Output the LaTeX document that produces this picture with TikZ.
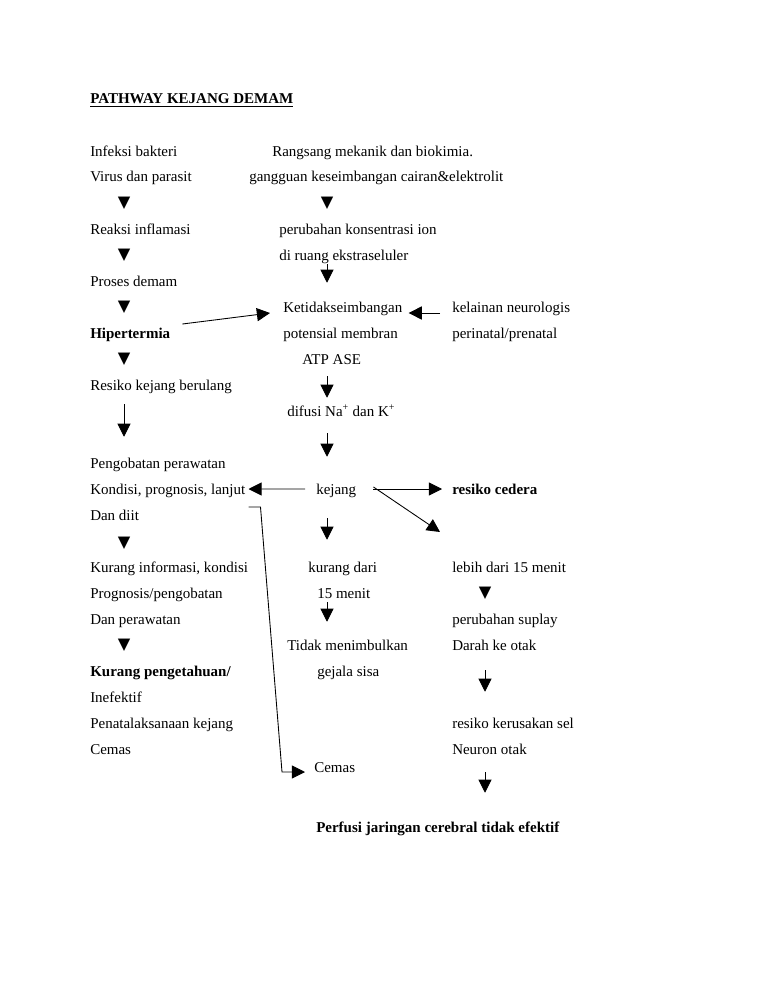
\documentclass[tikz,border=0pt]{standalone}
\usepackage{fontspec}
\setmainfont{Liberation Serif}
\newfontfamily\trifont{DejaVu Sans}
\usetikzlibrary{arrows.meta, positioning}

\begin{document}
\begin{tikzpicture}[x=0.8pt, y=-0.8pt, node distance={20.8pt},
		txt/.style = {anchor=base west, inner sep=0pt, text height=9pt, text depth=3pt, font=\fontsize{12pt}{14pt}\selectfont},
		bold/.style = {txt, font=\fontsize{12pt}{14pt}\selectfont\bfseries},
		tri/.style = {inner sep=0pt, font=\fontsize{13pt}{13pt}\selectfont\trifont},
		arr/.style = {-{Triangle[length=10.5pt, width=10.5pt]}, line width=0.7pt}]
	\useasboundingbox (0,0) rectangle (768,994);
	
	\node[bold] (title) at (90,104) {\underline{PATHWAY KEJANG DEMAM}};
	
	% left column
	\node[txt] (infeksi) at (90,156) {Infeksi bakteri};
	\node[below = of infeksi.base west, txt] (virus) {Virus dan parasit};
	\node[tri] (tvirus) at (124,203) {▼};
	\node[txt] (reaksi) at (90,234) {Reaksi inflamasi};
	\node[tri] (treaksi) at (124,255) {▼};
	\node[txt] (proses) at (90,286) {Proses demam};
	\node[tri] (tproses) at (124,307) {▼};
	\node[bold] (hiper) at (90,338) {Hipertermia};
	\node[tri] (thiper) at (124,359) {▼};
	\node[txt] (resiko) at (90,390) {Resiko kejang berulang};
	\node[txt] (pengobatan) at (90,468) {Pengobatan perawatan};
	\node[below = of pengobatan.base west, txt] (kondisi) {Kondisi, prognosis, lanjut};
	\node[below = of kondisi.base west, txt] (diit) {Dan diit};
	\node[tri] (tdiit) at (124,543) {▼};
	\node[txt] (info) at (90,572) {Kurang informasi, kondisi};
	\node[below = of info.base west, txt] (prognosis) {Prognosis/pengobatan};
	\node[below = of prognosis.base west, txt] (perawatan) {Dan perawatan};
	\node[tri] (tperawatan) at (124,645) {▼};
	\node[bold] (tahu) at (90,676) {Kurang pengetahuan/};
	\node[below = of tahu.base west, txt] (inefektif) {Inefektif};
	\node[below = of inefektif.base west, txt] (tatalaksana) {Penatalaksanaan kejang};
	\node[below = of tatalaksana.base west, txt] (cemas) {Cemas};
	
	% middle column
	\node[txt] (rangsang) at (272,156) {Rangsang mekanik dan biokimia.};
	\node[txt] (gangguan) at (249,182) {gangguan keseimbangan cairan\&elektrolit};
	\node[tri] (tgangguan) at (327,203) {▼};
	\node[txt] (konsentrasi) at (279,234) {perubahan konsentrasi ion};
	\node[below = of konsentrasi.base west, txt] (ruang) {di ruang ekstraseluler};
	\node[txt] (ketidak) at (283,312) {Ketidakseimbangan};
	\node[below = of ketidak.base west, txt] (membran) {potensial membran};
	\node[txt] (atp) at (302,364) {ATP ASE};
	\node[txt] (difusi) at (287,416) {difusi Na\textsuperscript{+} dan K\textsuperscript{+}};
	\node[txt] (kejang) at (316,494) {kejang};
	\node[txt] (kurangdari) at (308,572) {kurang dari};
	\node[txt] (menit) at (317,598) {15 menit};
	\node[txt] (tidak) at (287,650) {Tidak menimbulkan};
	\node[txt] (gejala) at (317,676) {gejala sisa};
	\node[txt] (cemasb) at (314,772) {Cemas};
	\node[bold] (perfusi) at (316,832) {Perfusi jaringan cerebral tidak efektif};
	
	% right column
	\node[txt] (kelainan) at (452,312) {kelainan neurologis};
	\node[below = of kelainan.base west, txt] (perinatal) {perinatal/prenatal};
	\node[bold] (cedera) at (452,494) {resiko cedera};
	\node[txt] (lebih) at (452,572) {lebih dari 15 menit};
	\node[tri] (tlebih) at (485,593) {▼};
	\node[txt] (suplay) at (452,624) {perubahan suplay};
	\node[below = of suplay.base west, txt] (darah) {Darah ke otak};
	\node[txt] (rusak) at (452,728) {resiko kerusakan sel};
	\node[below = of rusak.base west, txt] (neuron) {Neuron otak};
	
	\draw[arr, shorten >=14.2pt] (ruang.south -| tgangguan) -- (ketidak.north -| tgangguan);
	\draw[arr, shorten <=6.6pt, shorten >=5.4pt] (atp.south -| tgangguan) -- (difusi.north -| tgangguan);
	\draw[arr, shorten <=10.6pt, shorten >=20.6pt] (difusi.south -| tgangguan) -- (kejang.north -| tgangguan);
	\draw[arr, shorten <=16.2pt, shorten >=16.6pt] (kejang.south -| tgangguan) -- (kurangdari.north -| tgangguan);
	\draw[arr, shorten >=13.4pt] (menit.south -| tgangguan) -- (tidak.north -| tgangguan);
	\draw[arr, shorten <=13pt, shorten >=19.8pt] (darah.south -| tlebih) -- (rusak.north -| tlebih);
	\draw[arr, shorten <=11.4pt, shorten >=22.2pt] (neuron.south -| tlebih) -- (perfusi.north -| tlebih);
	\draw[arr, shorten <=8.2pt, shorten >=15.8pt] (resiko.south -| thiper) -- (pengobatan.north -| thiper);
	
	\draw[arr] ([shift={(12,-14)}]hiper.base east) -- ([shift={(-13,1)}]ketidak.base west);
	\draw[arr] ([shift={(-12,1)}]kelainan.base west) -- ([shift={(6,1)}]ketidak.base east);
	\draw[arr] ([shift={(-11,-5)}]kejang.base west) -- ([shift={(3,-5)}]kondisi.base east);
	\draw[arr] ([shift={(17,-5)}]kejang.base east) -- ([shift={(-10,-5)}]cedera.base west);
	\draw[arr] ([shift={(17,-7)}]kejang.base east) -- ([shift={(-12,-40)}]lebih.base west);
	\draw[arr] ([shift={(3,13)}]kondisi.base east) -- ++(12,0) -- ([shift={(-32,0)}]cemasb.base west) -- ([shift={(-9,0)}]cemasb.base west);
\end{tikzpicture}
\end{document}
